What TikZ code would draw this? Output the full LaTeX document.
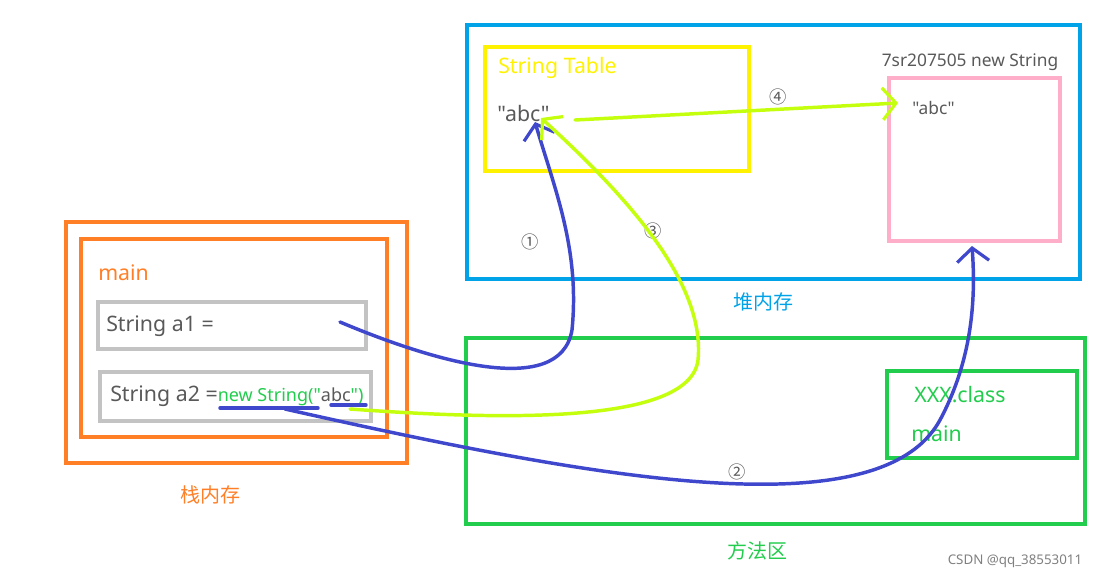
\documentclass[tikz,border=0pt]{standalone}
\usepackage{fontspec}
\setmainfont{Noto Sans}[Ligatures=TeXOff]
\newfontfamily\cj{Noto Sans CJK SC}
\usetikzlibrary{arrows.meta}
\definecolor{cOr}{HTML}{FF7F27}
\definecolor{cBl}{HTML}{00A2E8}
\definecolor{cGr}{HTML}{22CC4C}
\definecolor{cYe}{HTML}{FFF200}
\definecolor{cPk}{HTML}{FFAEC9}
\definecolor{cGy}{HTML}{C3C3C3}
\definecolor{cTx}{HTML}{595959}
\definecolor{cPen}{HTML}{3F48CC}
\definecolor{cLi}{HTML}{C4FF0E}
\tikzset{
 box/.style={draw=#1,line width=3pt},
 lbl/.style={inner sep=0pt,font=\fontsize{16pt}{18pt}\selectfont},
 sml/.style={inner sep=0pt,font=\fontsize{13pt}{15pt}\selectfont,text=cTx},
 pen/.style={line width=2.6pt,line cap=round,draw=#1},
 tip/.style={-{Straight Barb[length=10pt,width=24pt,line width=2.4pt]}}
}
\begin{document}
\begin{tikzpicture}[x=0.75pt,y=-0.75pt]
\useasboundingbox (0,0) rectangle (1115,579);
% stack
\draw[box=cOr] (66,222) rectangle (407,463);
\draw[box=cOr] (81,239) rectangle (387,437);
\node[lbl,text=cOr,anchor=west] (mn) at (98,273) {main};
\draw[box=cGy] (98,302) rectangle (366,349);
\draw[box=cGy] (100,372) rectangle (371,421);
\node[lbl,text=cTx,anchor=west] (a1) at (106,326) {String a1 =};
\node[lbl,text=cTx,anchor=west] (a2) at (110,396) {String a2 =\textcolor{cGr}{\fontsize{13.5pt}{15pt}\selectfont new String("}\textcolor{cTx}{\fontsize{13.5pt}{15pt}\selectfont abc}\textcolor{cGr}{\fontsize{13.5pt}{15pt}\selectfont ")}};
\node[lbl,text=cOr,font=\cj\fontsize{15pt}{17pt}\selectfont] (st) at (210,495) {栈内存};
% heap
\draw[box=cBl] (467,25) rectangle (1080,279);
\node[lbl,text=cBl,font=\cj\fontsize{15pt}{17pt}\selectfont] (hp) at (763,302) {堆内存};
\draw[box=cYe] (485,47) rectangle (749,171);
\node[lbl,text=cYe,anchor=west] (tb) at (498,68) {String Table};
\node[lbl,text=cTx,anchor=west] (s1) at (497,113) {"abc"};
\draw[box=cPk] (889,78) rectangle (1060,241);
\node[sml,anchor=center] (ns) at (970,62) {7sr207505 new String};
\node[sml,anchor=west] (s2) at (912,108) {"abc"};
% method area
\draw[box=cGr] (466,338) rectangle (1085,524);
\node[lbl,text=cGr,font=\cj\fontsize{15pt}{17pt}\selectfont] (ma) at (757,551) {方法区};
\draw[box=cGr] (887,371) rectangle (1077,458);
\node[lbl,text=cGr,anchor=west] (xc) at (914,395) {XXX.class};
\node[lbl,text=cGr,anchor=west] (xm) at (911,434) {main};
% numbers
\node[sml,font=\cj\fontsize{13pt}{15pt}\selectfont] (n1) at (530,242) {①};
\node[sml,font=\cj\fontsize{13pt}{15pt}\selectfont] (n2) at (737,472) {②};
\node[sml,font=\cj\fontsize{13pt}{15pt}\selectfont] (n3) at (653,231) {③};
\node[sml,font=\cj\fontsize{13pt}{15pt}\selectfont] (n4) at (778,97) {④};
\node[inner sep=0pt,font=\fontsize{10pt}{12pt}\selectfont,text=gray] (wm) at (1015,561) {CSDN @qq\_38553011};
% pen strokes
\coordinate (p1) at (340,322);
\coordinate (t1) at (535,122);
\draw[pen=cPen,tip] (p1) .. controls (430,360) and (560,400) .. (572,330) .. controls (580,250) and (555,190) .. (t1);
\coordinate (u1) at (220,408); \coordinate (u2) at (318,408);
\coordinate (u3) at (331,405); \coordinate (u4) at (366,405);
\draw[pen=cPen] (u1) -- (u2);
\draw[pen=cPen] (u3) -- (u4);
\coordinate (p2) at (285,409);
\coordinate (t2) at (972,246);
\draw[pen=cPen,tip] (p2) .. controls (600,480) and (880,530) .. (940,420) .. controls (972,360) and (976,300) .. (t2);
\coordinate (p3) at (350,409);
\coordinate (t3) at (541,118);
\draw[pen=cLi,tip] (p3) .. controls (500,420) and (690,425) .. (698,360) .. controls (706,280) and (620,190) .. (t3);
\coordinate (p4) at (575,120);
\coordinate (t4) at (898,103);
\draw[pen=cLi,tip] (p4) -- (t4);
\end{tikzpicture}
\end{document}
